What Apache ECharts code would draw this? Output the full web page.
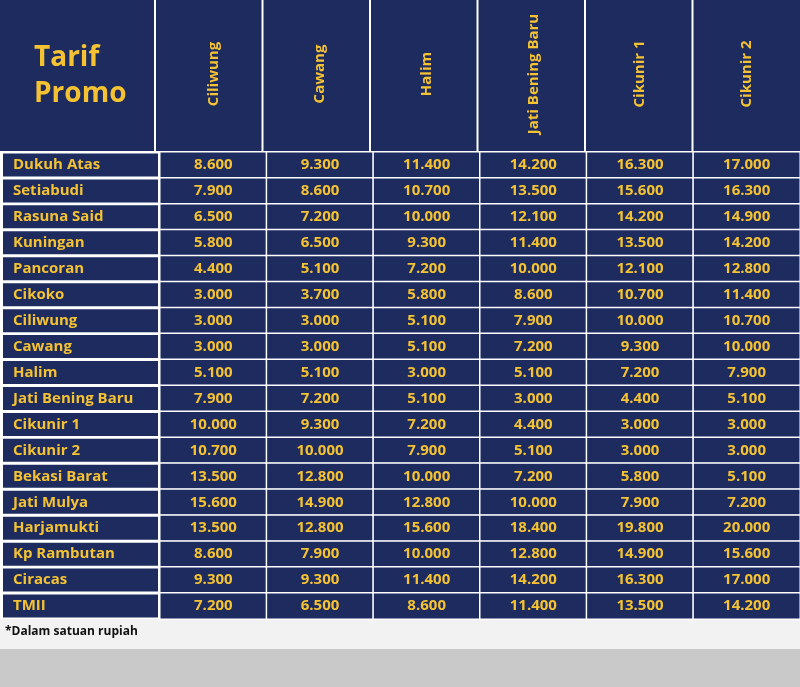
<!DOCTYPE html>
<html>
<head>
<meta charset="utf-8">
<script src="https://cdn.jsdelivr.net/npm/echarts@6/dist/echarts.min.js"></script>
<style>
  html, body { margin: 0; padding: 0; background: #fff; }
  #chart { width: 800px; height: 687px; }
</style>
</head>
<body>
<div id="chart"></div>
<script>
// stasiun tujuan (kolom)
const columns = ['Ciliwung', 'Cawang', 'Halim', 'Jati Bening Baru', 'Cikunir 1', 'Cikunir 2']
// stasiun asal (baris)
const rows = ['Dukuh Atas', 'Setiabudi', 'Rasuna Said', 'Kuningan', 'Pancoran', 'Cikoko',
  'Ciliwung', 'Cawang', 'Halim', 'Jati Bening Baru', 'Cikunir 1', 'Cikunir 2',
  'Bekasi Barat', 'Jati Mulya', 'Harjamukti', 'Kp Rambutan', 'Ciracas', 'TMII']
// tarif per kolom (rupiah)
const ciliwung = [8600, 7900, 6500, 5800, 4400, 3000, 3000, 3000, 5100, 7900, 10000, 10700, 13500, 15600, 13500, 8600, 9300, 7200]
const cawang = [9300, 8600, 7200, 6500, 5100, 3700, 3000, 3000, 5100, 7200, 9300, 10000, 12800, 14900, 12800, 7900, 9300, 6500]
const halim = [11400, 10700, 10000, 9300, 7200, 5800, 5100, 5100, 3000, 5100, 7200, 7900, 10000, 12800, 15600, 10000, 11400, 8600]
const jatiBening = [14200, 13500, 12100, 11400, 10000, 8600, 7900, 7200, 5100, 3000, 4400, 5100, 7200, 10000, 18400, 12800, 14200, 11400]
const cikunir1 = [16300, 15600, 14200, 13500, 12100, 10700, 10000, 9300, 7200, 4400, 3000, 3000, 5800, 7900, 19800, 14900, 16300, 13500]
const cikunir2 = [17000, 16300, 14900, 14200, 12800, 11400, 10700, 10000, 7900, 5100, 3000, 3000, 5100, 7200, 20000, 15600, 17000, 14200]

const navy = '#1d2b5e'
const gold = '#f4c232'

const series = [ciliwung, cawang, halim, jatiBening, cikunir1, cikunir2]
const data = []
series.forEach((arr, x) => arr.forEach((v, y) => data.push([x, y, v])))

const fmt = v => String(v).replace(/\B(?=(\d{3})+(?!\d))/g, '.')

const chart = echarts.init(document.getElementById('chart'))
const sep = []
for (let i = 0; i < columns.length; i++) {
  sep.push({
    type: 'rect', z: 1,
    shape: { x: 155 + i * 107.5 - 1, y: 0, width: 2, height: 152 },
    style: { fill: '#fff' }
  })
}
chart.setOption({
  backgroundColor: '#fff',
  animation: false,
  graphic: [
    { type: 'rect', z: 0, shape: { x: 0, y: 0, width: 800, height: 151 }, style: { fill: navy } },
    { type: 'rect', z: 0, shape: { x: 0, y: 619, width: 800, height: 68 }, style: { fill: '#c9c9c9' } },
    { type: 'rect', z: 0, shape: { x: 0, y: 619, width: 800, height: 30 }, style: { fill: '#f2f2f2' } },
    { type: 'text', z: 2, left: 34, top: 40, style: { text: 'Tarif\nPromo', fill: gold, font: 'bold 28px "Open Sans", sans-serif', lineHeight: 36 } },
    { type: 'text', z: 2, left: 5, top: 626, style: { text: '*Dalam satuan rupiah', fill: '#111', font: 'bold 12px "Open Sans", sans-serif' } },
    ...sep
  ],
  grid: { left: 155, right: 0, top: 152, bottom: 68 },
  xAxis: {
    type: 'category', position: 'top', data: columns,
    axisLine: { show: false }, axisTick: { show: false },
    axisLabel: { rotate: -90, align: 'center', margin: 78, color: gold, fontWeight: 'bold', fontSize: 15, fontFamily: '"Open Sans", sans-serif' }
  },
  yAxis: {
    type: 'category', inverse: true, data: rows,
    axisLine: { show: false }, axisTick: { show: false },
    axisLabel: {
      align: 'left', margin: 157, color: gold, fontWeight: 'bold', fontSize: 15,
      fontFamily: '"Open Sans", sans-serif',
      backgroundColor: navy, width: 145, height: 23, lineHeight: 23, padding: [0, 0, 0, 10]
    }
  },
  visualMap: { show: false, min: 0, max: 30000, inRange: { color: [navy, navy] } },
  series: [{
    type: 'heatmap', data: data,
    itemStyle: { borderColor: '#fff', borderWidth: 1.5 },
    label: { show: true, color: gold, fontWeight: 'bold', fontSize: 15, fontFamily: '"Open Sans", sans-serif', formatter: p => fmt(p.value[2]) }
  }]
})
</script>
</body>
</html>
